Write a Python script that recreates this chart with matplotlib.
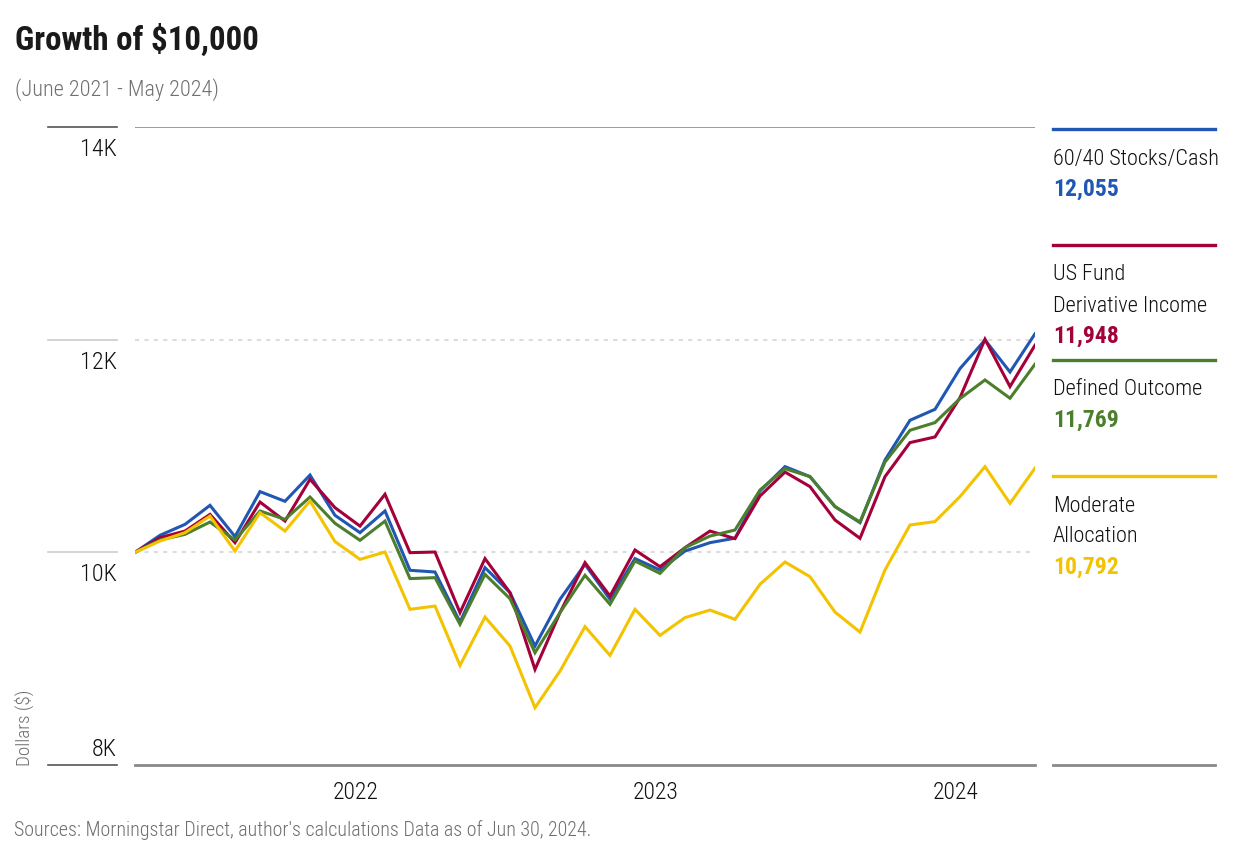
import matplotlib
matplotlib.use("Agg")
import matplotlib.pyplot as plt
from matplotlib.lines import Line2D
from matplotlib.transforms import blended_transform_factory, offset_copy

plt.rcParams['font.family'] = ['Roboto Condensed', 'Liberation Sans Narrow', 'Roboto', 'DejaVu Sans']

# monthly growth of $10,000, end of May 2021 .. end of May 2024
months = list(range(37))
stocks_cash = [10000, 10160, 10263, 10442, 10148, 10571, 10480, 10727, 10348, 10185, 10389, 9831, 9815,
               9344, 9856, 9621, 9119, 9558, 9887, 9558, 9941, 9834, 10012, 10091, 10133,
               10577, 10806, 10712, 10430, 10279, 10868, 11242, 11345, 11728, 11997, 11696, 12055]
deriv_income = [10000, 10138, 10200, 10357, 10091, 10473, 10294, 10687, 10420, 10247, 10546, 9997, 10003,
                9433, 9941, 9621, 8899, 9433, 9903, 9589, 10022, 9865, 10044, 10200, 10129,
                10530, 10755, 10618, 10304, 10132, 10712, 11032, 11085, 11455, 12004, 11559, 11948]
defined_outcome = [10000, 10116, 10169, 10285, 10116, 10389, 10310, 10520, 10273, 10113, 10294, 9753, 9762,
                   9323, 9793, 9564, 9056, 9433, 9784, 9511, 9918, 9802, 10044, 10153, 10210,
                   10586, 10787, 10712, 10430, 10285, 10849, 11148, 11220, 11446, 11621, 11449, 11769]
moderate_alloc = [10000, 10106, 10185, 10341, 10012, 10373, 10200, 10483, 10101, 9934, 10003, 9464, 9495,
                  8937, 9391, 9119, 8539, 8883, 9301, 9031, 9464, 9219, 9386, 9457, 9370,
                  9699, 9909, 9771, 9438, 9250, 9834, 10257, 10289, 10524, 10806, 10461, 10792]

series_names = ['60/40 Stocks/Cash', 'US Fund\nDerivative Income', 'Defined Outcome', 'Moderate\nAllocation']
series_data = [stocks_cash, deriv_income, defined_outcome, moderate_alloc]
series_colors = ['#1f57b3', '#a4003a', '#4b7f2c', '#f3c300']

y_ticks = [8000, 10000, 12000, 14000]
y_labels = ['8K', '10K', '12K', '14K']
year_pos = [8.84, 20.84, 32.84]
year_labels = ['2022', '2023', '2024']

W, H = 1260, 854
fig = plt.figure(figsize=(W / 100, H / 100), dpi=100)


def fx(px):
    return px / W


def fy(py):
    return 1 - py / H


ax = fig.add_axes([fx(135), fy(766), 900 / W, 638 / H])
ax.set_xlim(0, 36)
ax.set_ylim(8000, 14000)
for s in ax.spines.values():
    s.set_visible(False)
ax.set_yticks([])
ax.set_xticks(year_pos)
ax.set_xticklabels(year_labels, fontsize=17, color='#111111', fontweight='light')
ax.tick_params(axis='x', length=0, pad=11)

# grid lines
ax.axhline(14000, color='#8a8a8a', lw=1.2, zorder=1)
ax.axhline(12000, color='#dcdcdc', lw=1.5, ls=(0, (2, 2.5)), zorder=1)
ax.axhline(10000, color='#dcdcdc', lw=1.5, ls=(0, (2, 2.5)), zorder=1)
ax.axhline(8000, color='#8a8a8a', lw=2, zorder=1, clip_on=False)

trans = blended_transform_factory(ax.transAxes, ax.transData)
left_colors = {8000: '#555555', 10000: '#cccccc', 12000: '#cccccc', 14000: '#555555'}
for v, lab in zip(y_ticks, y_labels):
    ax.plot([-87 / 900, -18 / 900], [v, v], color=left_colors[v], lw=1.2, transform=trans, clip_on=False)
    if v == 8000:
        t = offset_copy(trans, fig=fig, x=0, y=10 * 0.72, units='points')
    else:
        t = offset_copy(trans, fig=fig, x=0, y=-28 * 0.72, units='points')
    ax.text(-18 / 900, v, lab, transform=t, ha='right', va='baseline', fontsize=17.5,
            color='#111111', fontweight='light')

# right side baseline
ax.plot([918 / 900, 1080 / 900], [8000, 8000], color='#8a8a8a', lw=2, transform=trans, clip_on=False)

for name, data, c in zip(series_names, series_data, series_colors):
    ax.plot(months, data, color=c, lw=2.2, solid_joinstyle='miter', zorder=3)

# legend on the right
legend_y = [129.5, 245.5, 360.5, 476.5]
for name, data, c, ly in zip(series_names, series_data, series_colors, legend_y):
    fig.add_artist(Line2D([fx(1053), fx(1215)], [fy(ly), fy(ly)], color=c, lw=2.4))
    lines = name.split('\n')
    base = ly + 35
    for i, ln in enumerate(lines):
        fig.text(fx(1053), fy(base + 31 * i), ln, fontsize=16, color='#111111', va='baseline',
                 fontweight='light')
    fig.text(fx(1053), fy(base + 31 * len(lines)), f'{data[-1]:,}', fontsize=17,
             fontweight='bold', color=c, va='baseline')

fig.text(fx(15), fy(50), 'Growth of $10,000', fontsize=23.7, fontweight='bold', color='#1a1a1a', va='baseline')
fig.text(fx(15), fy(95.5), '(June 2021 - May 2024)', fontsize=16, color='#707070', va='baseline',
         fontweight='light')
fig.text(fx(24.5), fy(766), 'Dollars ($)', fontsize=13.8, color='#6e6e6e', rotation=90,
         ha='center', va='bottom', fontweight='light')
fig.text(fx(14), fy(836.5), "Sources: Morningstar Direct, author's calculations Data as of Jun 30, 2024.",
         fontsize=14.45, color='#6e6e6e', va='baseline', fontweight='light')

fig.savefig('out.png', dpi=100)
